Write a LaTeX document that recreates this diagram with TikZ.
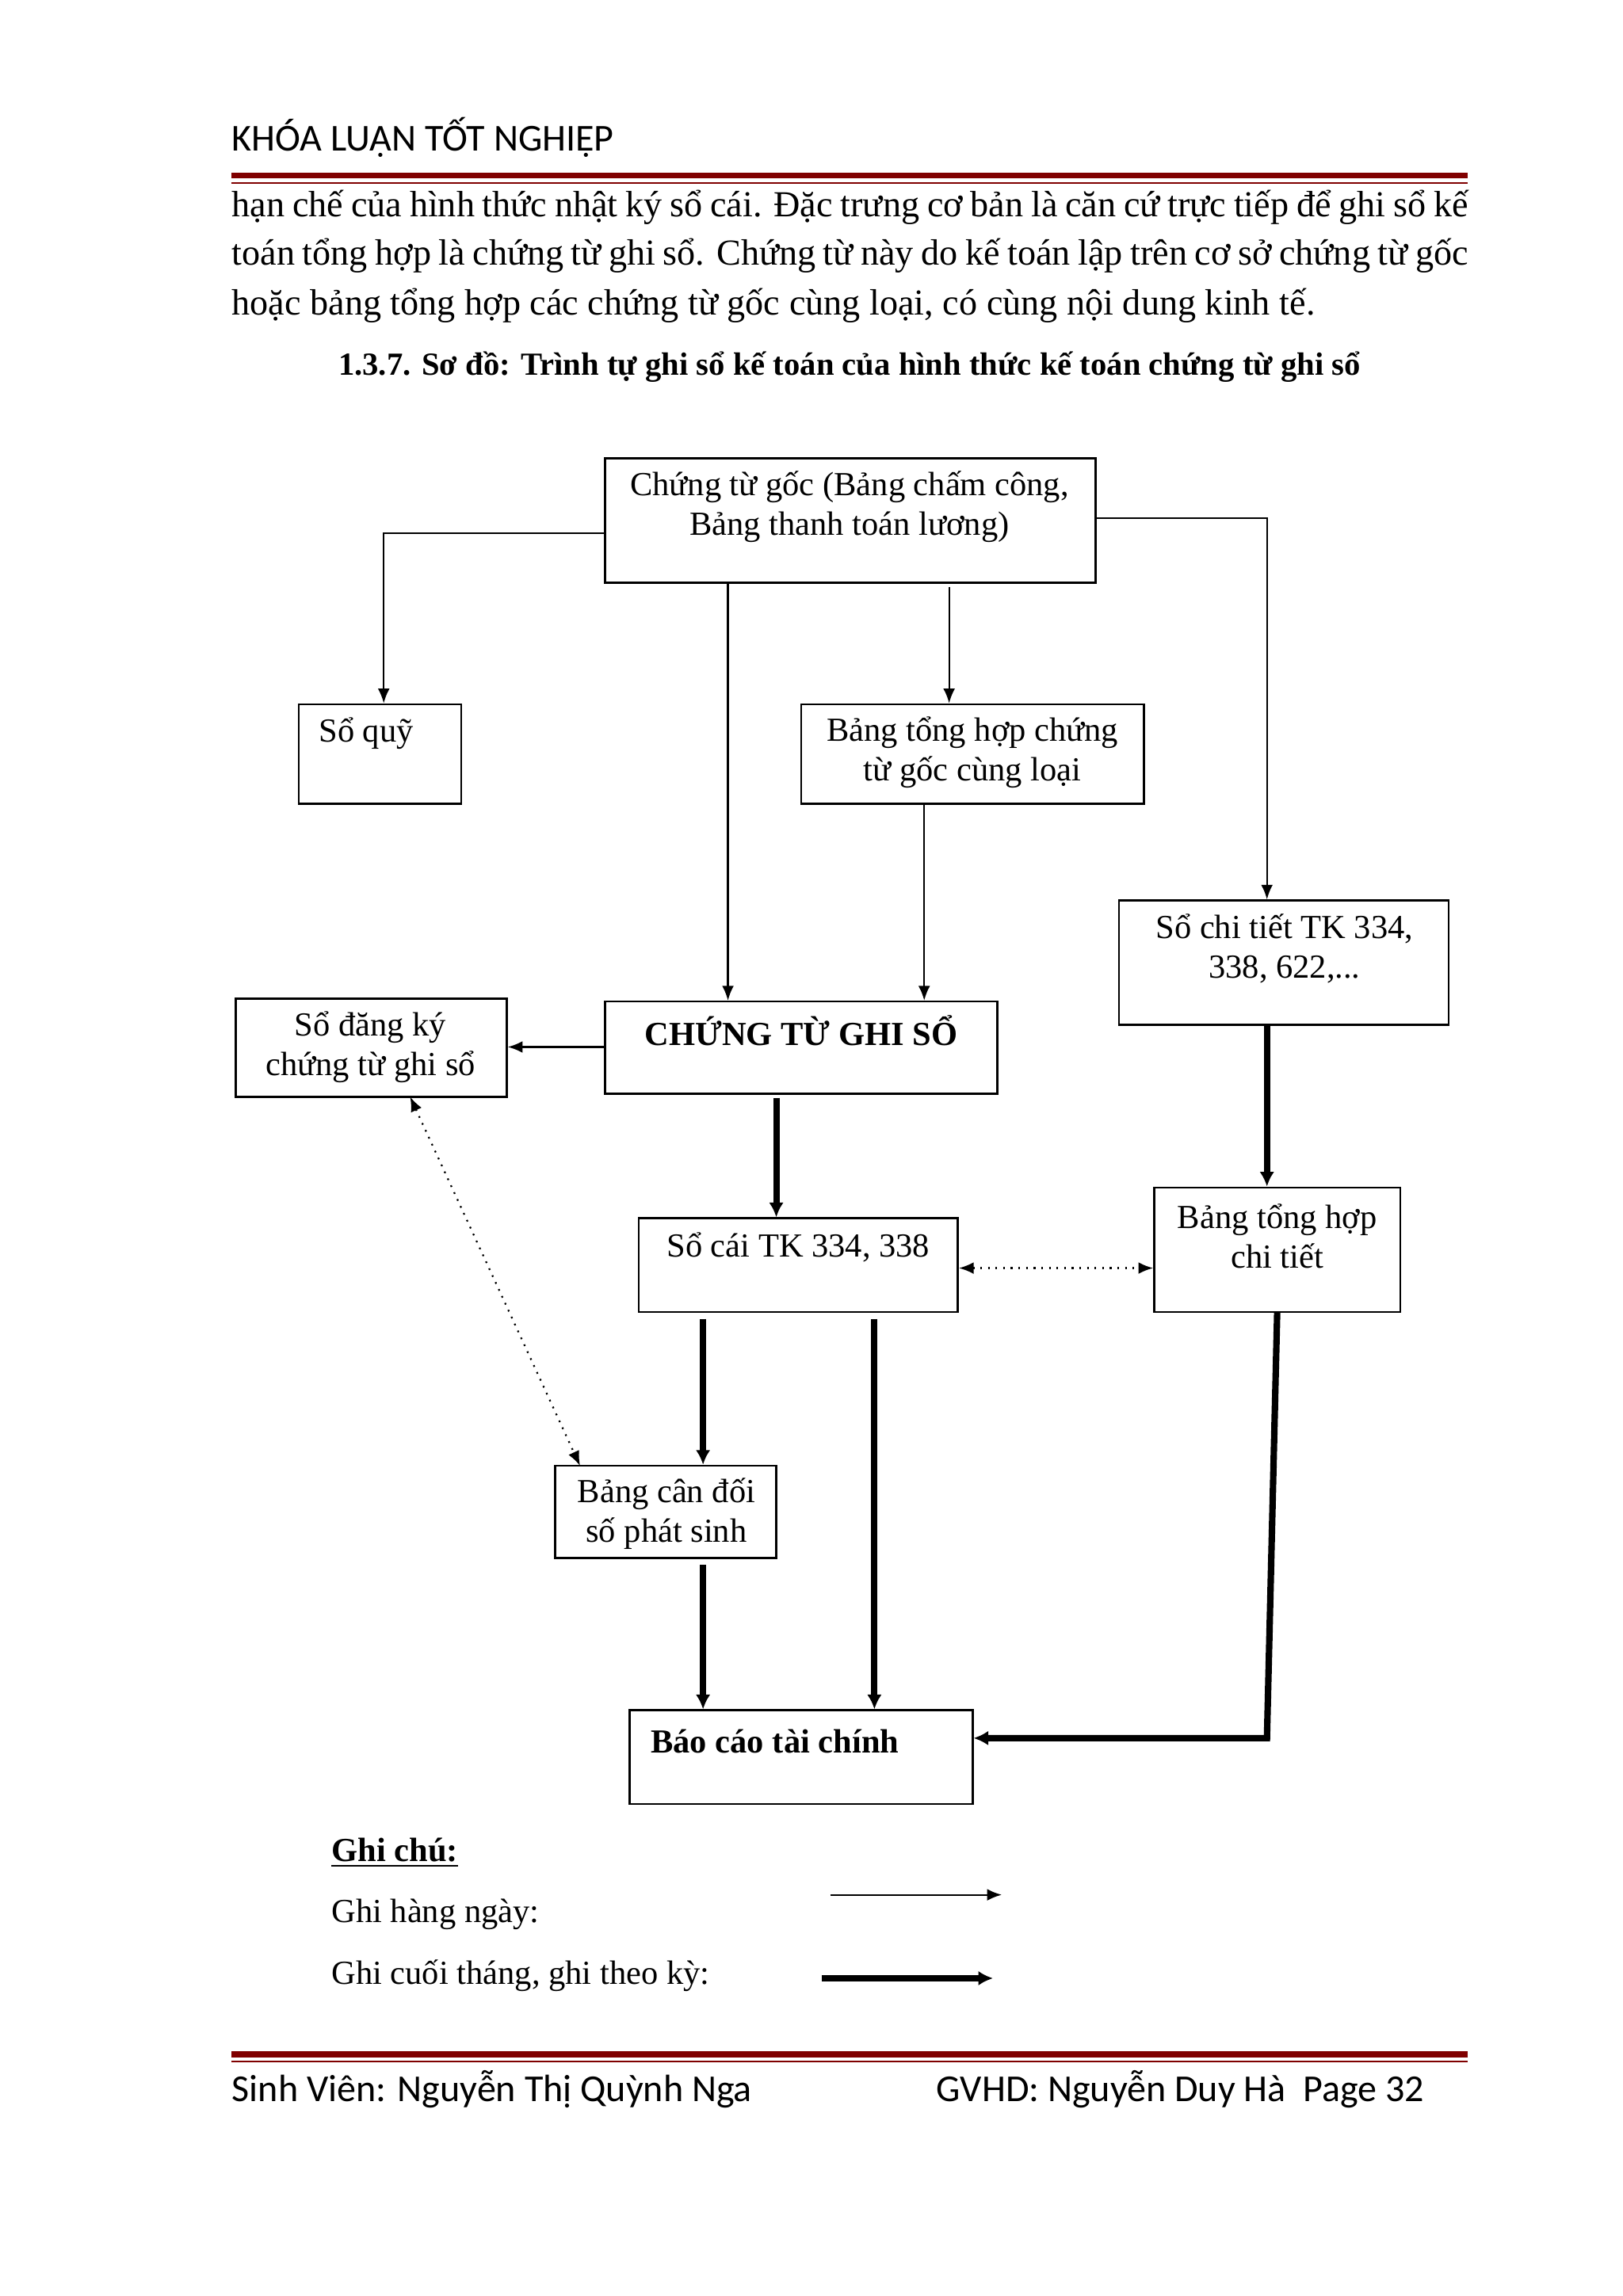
\documentclass[tikz,border=0pt]{standalone}
\usepackage{fontspec}
\setmainfont{Liberation Serif}
\newfontfamily\hdr{Carlito}
\usetikzlibrary{arrows.meta,fit}
\definecolor{dred}{RGB}{128,0,0}
\begin{document}
\begin{tikzpicture}[x=0.5pt,y=-0.5pt,
  box/.style={draw,line width=0.7pt,inner sep=0pt},
  txt/.style={inner sep=0pt,font=\fontsize{11.5}{13.5}\selectfont,align=center},
  thin/.style={line width=0.6pt,-{Latex[length=5pt,width=4pt]}},
  thk/.style={line width=2.2pt,-{Latex[length=5pt,width=5pt]}},
  dot/.style={line width=0.6pt,dotted,{Latex[length=5pt,width=4pt]}-{Latex[length=5pt,width=4pt]}},
  body/.style={inner sep=0pt,anchor=west,font=\fontsize{12.5}{15}\selectfont}]
\useasboundingbox (0,0) rectangle (1108,1568);
% header
\node[anchor=base west,inner sep=0pt,font=\hdr\fontsize{13}{15}\selectfont] (hd) at (158,103) {KHÓA LUẬN TỐT NGHIỆP};
\fill[dred] (158,118) rectangle (1002,122);
\draw[dred,line width=0.5pt] (158,125) -- (1002,125);
\node[body,anchor=base west] (p1) at (158,148) {\makebox[422pt][s]{hạn chế của hình thức nhật ký sổ cái. Đặc trưng cơ bản là căn cứ trực tiếp để ghi sổ kế}};
\node[body,anchor=base west] (p2) at (158,181) {\makebox[422pt][s]{toán tổng hợp là chứng từ ghi sổ. Chứng từ này do kế toán lập trên cơ sở chứng từ gốc}};
\node[body,anchor=base west] (p3) at (158,215) {hoặc bảng tổng hợp các chứng từ gốc cùng loại, có cùng nội dung kinh tế.};
\node[inner sep=0pt,font=\bfseries\fontsize{11}{13}\selectfont,anchor=base] (tt) at (580,256) {1.3.7. Sơ đồ: Trình tự ghi sổ kế toán của hình thức kế toán chứng từ ghi sổ};
% boxes
\node[box,fit={(413,313)(748,398)}] (A) {};
\node[box,fit={(204,481)(315,549)}] (B) {};
\node[box,fit={(547,481)(781,549)}] (C) {};
\node[box,fit={(764,615)(989,700)}] (D) {};
\node[box,fit={(161,682)(346,749)}] (E) {};
\node[box,fit={(413,684)(681,747)}] (F) {};
\node[box,fit={(436,832)(654,896)}] (G) {};
\node[box,fit={(788,811)(956,896)}] (H) {};
\node[box,fit={(379,1001)(530,1064)}] (I) {};
\node[box,fit={(430,1168)(664,1232)}] (J) {};
% texts
\node[txt] (tA) at (580,346) {Chứng từ gốc (Bảng chấm công,\\Bảng thanh toán lương)};
\node[txt] (tB) at (250,501) {Sổ quỹ};
\node[txt] (tC) at (664,514) {Bảng tổng hợp chứng\\từ gốc cùng loại};
\node[txt] (tD) at (877,648) {Sổ chi tiết TK 334,\\338, 622,...};
\node[txt] (tE) at (253,715) {Sổ đăng ký\\chứng từ ghi sổ};
\node[txt,font=\bfseries\fontsize{11.5}{13.5}\selectfont] (tF) at (547,704) {CHỨNG TỪ GHI SỔ};
\node[txt] (tG) at (545,852) {Sổ cái TK 334, 338};
\node[txt] (tH) at (872,844) {Bảng tổng hợp\\chi tiết};
\node[txt] (tI) at (455,1034) {Bảng cân đối\\số phát sinh};
\node[txt,anchor=west,font=\bfseries\fontsize{11.5}{13.5}\selectfont] (tJ) at (444,1189) {Báo cáo tài chính};
% x coordinates
\coordinate (x262) at (262,0); \coordinate (x497) at (497,0); \coordinate (x648) at (648,0);
\coordinate (x865) at (865,0); \coordinate (x631) at (631,0); \coordinate (x530) at (530,0);
\coordinate (x480) at (480,0); \coordinate (x597) at (597,0);
\coordinate (y364) at (0,364); \coordinate (y354) at (0,354); \coordinate (y715) at (0,715);
\coordinate (y866) at (0,866); \coordinate (y1187) at (0,1187);
% connectors
\draw[thin] (A.west |- y364) -| (B.north -| x262);
\draw[thin] (A.south -| x497) -- (F.north -| x497);
\draw[thin] ([yshift=-1pt]A.south -| x648) -- (C.north -| x648);
\draw[thin] (A.east |- y354) -| (D.north -| x865);
\draw[thin] (C.south -| x631) -- (F.north -| x631);
\draw[thin] (F.west |- y715) -- (E.east |- y715);
\draw[thk] ([yshift=-1pt]F.south -| x530) -- (G.north -| x530);
\draw[thk] (D.south -| x865) -- (H.north -| x865);
\draw[dot] (G.east |- y866) -- (H.west |- y866);
\coordinate (e1) at (280,749); \coordinate (i1) at (396,1001);
\draw[dot] (e1) -- (i1);
\draw[thk] ([yshift=-2pt]G.south -| x480) -- (I.north -| x480);
\draw[thk] ([yshift=-2pt]G.south -| x597) -- (J.north -| x597);
\draw[thk] ([yshift=-2pt]I.south -| x480) -- (J.north -| x480);
\coordinate (h1) at (872,896); \coordinate (h2) at (865,1187);
\draw[thk] (h1) -- (h2) -- (J.east |- y1187);
% legend
\node[anchor=base west,inner sep=0pt,font=\bfseries\fontsize{11.5}{13.5}\selectfont] (g0) at (226,1271) {\underline{Ghi chú:}};
\node[anchor=base west,inner sep=0pt,font=\fontsize{11.5}{13.5}\selectfont] (g1) at (226,1313) {Ghi hàng ngày:};
\node[anchor=base west,inner sep=0pt,font=\fontsize{11.5}{13.5}\selectfont] (g2) at (226,1355) {Ghi cuối tháng, ghi theo kỳ:};
\coordinate (l1a) at (567,1294); \coordinate (l1b) at (684,1294);
\coordinate (l2a) at (561,1351); \coordinate (l2b) at (678,1351);
\draw[thin] (l1a) -- (l1b);
\draw[thk] (l2a) -- (l2b);
% footer
\fill[dred] (158,1401) rectangle (1002,1405);
\draw[dred,line width=0.5pt] (158,1408) -- (1002,1408);
\node[anchor=base west,inner sep=0pt,font=\hdr\fontsize{13}{15}\selectfont] (f1) at (158,1435) {Sinh Viên: Nguyễn Thị Quỳnh Nga};
\node[anchor=base west,inner sep=0pt,font=\hdr\fontsize{13}{15}\selectfont] (f2) at (639,1435) {GVHD: Nguyễn Duy Hà\ \ Page 32};
\end{tikzpicture}
\end{document}
